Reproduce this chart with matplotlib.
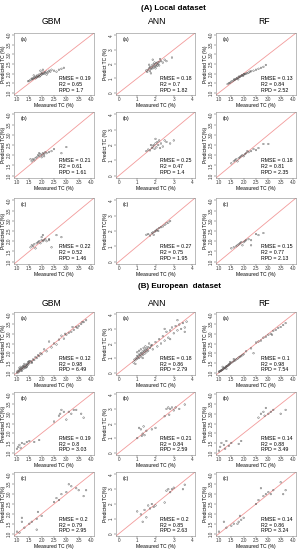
import numpy as np
import matplotlib
matplotlib.use("Agg")
import matplotlib.pyplot as plt

plt.rcParams['font.family'] = ['Liberation Sans', 'DejaVu Sans']

# ---- data: (A) local dataset, measured (x) vs predicted (y) TC %
gbm_loc_a_x = [1.45,1.5,1.55,1.6,1.62,1.65,1.7,1.72,1.75,1.78,1.8,1.82,1.85,1.88,1.9,1.92,1.95,1.98,2.0,2.02,2.05,2.1,2.12,2.15,2.2,2.25,2.3,2.35,2.4,2.5,2.6,2.7,2.8,2.9,1.68,1.95,2.05,2.2]
gbm_loc_a_y = [1.6,1.62,1.68,1.7,1.75,1.72,1.78,1.8,1.75,1.85,1.8,1.9,1.83,1.88,1.95,1.85,1.9,2.0,1.95,2.05,1.98,2.0,2.08,2.02,2.1,2.05,2.15,2.1,2.2,2.15,2.1,2.2,2.25,2.3,1.9,2.15,2.2,1.95]
gbm_loc_b_x = [1.55,1.6,1.7,1.75,1.8,1.85,1.9,1.95,2.0,2.0,2.05,2.1,2.15,2.2,2.3,2.4,2.5,2.8,3.0,1.65,1.9,2.1]
gbm_loc_b_y = [1.8,1.7,1.75,1.85,1.9,2.0,1.95,2.05,2.0,1.9,2.1,2.05,2.15,2.1,2.15,2.2,2.3,2.1,2.4,1.8,2.1,1.95]
gbm_loc_c_x = [1.55,1.6,1.65,1.7,1.8,1.85,1.9,1.95,2.0,2.0,2.05,2.1,2.15,2.2,2.3,2.4,2.6,2.8,1.75,2.05,2.3]
gbm_loc_c_y = [1.7,1.8,1.75,1.85,1.9,1.95,2.0,1.9,2.05,2.2,2.0,2.05,2.1,2.0,2.05,1.7,2.3,2.2,1.65,2.3,2.1]

ann_loc_a_x = [1.5,1.55,1.6,1.65,1.7,1.7,1.75,1.8,1.8,1.85,1.9,1.9,1.95,2.0,2.0,2.05,2.1,2.1,2.15,2.2,2.2,2.3,2.4,2.5,2.6,2.9,1.75,1.85,1.95,2.05,2.25,1.65]
ann_loc_a_y = [1.55,1.45,1.6,1.7,1.5,1.8,1.65,1.75,1.9,1.7,1.85,2.0,1.8,1.95,1.7,2.05,1.9,2.1,2.0,2.15,1.9,2.2,2.1,2.3,2.2,2.45,1.35,2.3,2.1,1.85,2.35,1.95]
ann_loc_b_x = [1.5,1.6,1.7,1.8,1.85,1.9,1.95,2.0,2.05,2.1,2.15,2.2,2.3,2.4,2.5,2.6,2.8,3.0,1.75,2.0,2.25]
ann_loc_b_y = [1.6,1.7,1.65,1.8,1.9,2.0,1.75,2.1,1.85,2.2,2.0,2.3,2.1,1.9,2.3,2.2,2.1,2.3,2.0,2.4,1.8]
ann_loc_c_x = [1.5,1.6,1.7,1.8,1.85,1.9,2.0,2.05,2.1,2.2,2.3,2.4,2.5,2.6,2.7,2.8,1.95,2.15]
ann_loc_c_y = [1.75,1.8,1.7,1.85,1.9,1.75,2.0,2.05,2.1,2.2,2.25,2.3,2.4,2.5,2.55,2.65,1.95,2.0]

rf_loc_a_x = [1.35,1.4,1.45,1.5,1.55,1.6,1.62,1.65,1.7,1.72,1.75,1.8,1.82,1.85,1.9,1.92,1.95,2.0,2.02,2.05,2.1,2.15,2.2,2.25,2.3,2.4,2.5,2.6,2.7,2.8,2.9,1.78,1.98]
rf_loc_a_y = [1.45,1.5,1.52,1.58,1.6,1.65,1.7,1.68,1.72,1.75,1.78,1.8,1.85,1.82,1.88,1.9,1.92,1.95,1.98,1.97,2.0,2.02,2.05,2.1,2.12,2.15,2.2,2.25,2.3,2.35,2.45,1.7,1.88]
rf_loc_b_x = [1.5,1.6,1.65,1.7,1.8,1.85,1.9,1.95,2.0,2.05,2.1,2.2,2.3,2.4,2.5,2.6,2.8,3.0,1.75,2.15]
rf_loc_b_y = [1.6,1.7,1.75,1.8,1.85,1.9,1.95,2.0,1.95,2.05,2.1,2.15,2.2,2.3,2.25,2.35,2.55,2.55,1.7,2.2]
rf_loc_c_x = [1.5,1.6,1.7,1.75,1.8,1.85,1.9,2.0,2.05,2.1,2.2,2.3,2.5,2.6,2.8,1.95,2.3]
rf_loc_c_y = [1.65,1.7,1.75,1.8,1.85,1.9,1.95,1.95,2.0,2.05,2.1,2.05,2.35,2.3,2.4,1.8,1.8]

# ---- data: (B) European dataset
gbm_eu_a_x = [1.0,1.02,1.05,1.08,1.1,1.12,1.15,1.18,1.2,1.22,1.25,1.28,1.3,1.32,1.35,1.38,1.4,1.42,1.45,1.48,1.5,1.55,1.6,1.65,1.7,1.75,1.8,1.85,1.9,1.95,2.0,1.1,1.2,1.3,1.4,1.5,1.6,1.15,1.25,1.35,1.45,2.1,2.2,2.4,2.5,2.6,2.7,2.8,2.9,3.0,3.1,3.2,3.3,3.4,3.5,3.6,3.7,3.8,2.3,2.95,3.25,3.45,3.65]
gbm_eu_a_y = [1.05,0.98,1.1,1.05,1.12,1.18,1.1,1.2,1.25,1.18,1.3,1.22,1.35,1.28,1.38,1.32,1.45,1.38,1.42,1.52,1.48,1.6,1.55,1.68,1.65,1.8,1.75,1.9,1.85,2.0,1.95,1.25,1.1,1.45,1.3,1.6,1.5,1.3,1.35,1.25,1.55,2.2,2.1,2.3,2.5,2.45,2.7,2.9,2.75,2.95,3.05,3.1,3.2,3.35,3.4,3.5,3.6,3.7,2.6,3.0,3.35,3.3,3.6]
gbm_eu_b_x = [1.0,1.05,1.1,1.15,1.2,1.3,1.4,1.5,1.7,1.9,2.5,2.7,2.8,2.9,3.0,3.1,3.2,3.4,3.6,3.7,2.75,3.3]
gbm_eu_b_y = [1.2,1.3,1.4,1.25,1.5,1.45,1.55,1.6,1.55,1.65,2.6,2.9,3.2,3.1,2.7,3.1,3.0,3.2,3.0,2.8,3.0,3.2]
gbm_eu_c_x = [1.0,1.1,1.2,1.3,1.5,1.6,1.8,1.8,1.85,2.0,2.5,2.6,2.7,2.8,3.0,3.1,3.2,3.4,3.5,3.7,3.8,1.2]
gbm_eu_c_y = [1.1,1.05,1.6,1.3,1.5,1.6,1.75,1.2,2.1,1.9,2.6,2.8,2.7,3.0,3.1,3.5,3.4,3.3,3.2,2.9,3.2,1.8]

ann_eu_a_x = [0.8,0.85,0.9,0.95,1.0,1.0,1.05,1.1,1.1,1.15,1.2,1.2,1.25,1.3,1.3,1.35,1.4,1.4,1.45,1.5,1.5,1.55,1.6,1.6,1.7,1.75,1.8,0.9,1.0,1.2,1.3,1.45,1.65,1.85,2.0,2.1,2.2,2.3,2.4,2.5,2.6,2.7,2.8,2.9,3.0,3.1,3.2,3.3,3.4,3.5,3.6,3.7,2.5,2.8,3.2,3.6,1.1,1.35]
ann_eu_a_y = [0.7,0.9,0.85,1.0,0.95,1.15,1.1,1.0,1.25,1.2,1.1,1.35,1.3,1.2,1.45,1.4,1.3,1.55,1.5,1.4,1.65,1.6,1.5,1.75,1.7,1.85,1.9,0.6,1.4,1.6,1.0,1.8,2.0,1.6,2.1,1.8,2.3,2.0,2.5,2.2,2.8,2.4,2.9,3.1,2.7,3.2,2.9,3.3,3.0,3.4,3.1,3.5,3.0,2.3,3.6,2.8,1.5,1.7]
ann_eu_b_x = [1.0,1.1,1.2,1.3,1.35,1.4,1.5,1.8,2.0,2.5,2.6,2.7,2.8,2.9,3.0,3.1,3.3,3.6,1.25,2.75]
ann_eu_b_y = [1.0,1.7,1.6,1.3,1.8,1.2,1.5,1.6,1.7,2.5,3.0,3.1,3.0,3.1,2.9,3.1,3.0,3.3,1.15,2.6]
ann_eu_c_x = [1.0,1.2,1.3,1.4,1.6,1.7,1.8,1.9,2.0,2.5,2.6,2.7,2.8,2.9,3.0,3.5,3.6,1.5]
ann_eu_c_y = [1.5,1.3,0.8,1.6,1.9,1.7,2.0,1.8,1.9,2.1,2.9,3.0,2.8,3.0,3.1,3.0,3.3,1.1]

rf_eu_a_x = [1.0,1.02,1.05,1.08,1.1,1.12,1.15,1.18,1.2,1.22,1.25,1.28,1.3,1.32,1.35,1.38,1.4,1.42,1.45,1.5,1.55,1.6,1.65,1.7,1.75,1.8,1.85,1.9,1.95,2.0,1.15,1.3,1.45,1.6,2.1,2.3,2.5,2.6,2.7,2.8,2.9,3.0,3.1,3.2,3.3,3.4,3.5,3.6,3.7,2.4,3.15]
rf_eu_a_y = [1.05,1.06,1.08,1.1,1.12,1.14,1.16,1.2,1.22,1.24,1.26,1.3,1.32,1.33,1.36,1.38,1.42,1.43,1.46,1.5,1.55,1.6,1.63,1.68,1.72,1.78,1.82,1.85,1.9,1.95,1.3,1.2,1.55,1.7,2.1,2.25,2.55,2.6,2.65,2.8,2.85,2.95,3.0,3.15,3.2,3.3,3.35,3.45,3.55,2.0,2.95]
rf_eu_b_x = [1.0,1.05,1.1,1.2,1.25,1.3,1.4,1.5,1.8,1.9,2.6,2.7,2.8,2.9,3.0,3.1,3.2,3.5,3.7,2.85]
rf_eu_b_y = [1.1,1.3,1.5,1.4,1.2,1.6,1.35,1.5,1.45,1.6,2.8,3.0,3.1,3.3,3.0,3.1,3.2,3.0,3.2,2.9]
rf_eu_c_x = [1.0,1.2,1.3,1.5,1.6,1.8,1.85,1.9,2.0,2.5,2.6,2.7,2.8,2.9,3.0,3.1,3.2,3.5,3.6,3.7,1.75]
rf_eu_c_y = [1.1,1.6,1.3,1.4,1.5,1.6,1.9,1.7,1.8,2.5,2.7,3.3,2.9,3.0,3.1,3.0,3.2,3.6,3.0,3.2,1.5]

# stats per model, rows a, b, c
models = ['GBM', 'ANN', 'RF']
rmse_loc = {'GBM': ['0.19', '0.21', '0.22'], 'ANN': ['0.18', '0.25', '0.27'], 'RF': ['0.13', '0.18', '0.15']}
r2_loc = {'GBM': ['0.65', '0.61', '0.52'], 'ANN': ['0.7', '0.47', '0.75'], 'RF': ['0.84', '0.81', '0.77']}
rpd_loc = {'GBM': ['1.7', '1.61', '1.46'], 'ANN': ['1.82', '1.4', '1.95'], 'RF': ['2.52', '2.35', '2.13']}
rmse_eu = {'GBM': ['0.12', '0.19', '0.2'], 'ANN': ['0.18', '0.21', '0.2'], 'RF': ['0.1', '0.14', '0.14']}
r2_eu = {'GBM': ['0.98', '0.8', '0.79'], 'ANN': ['0.86', '0.84', '0.85'], 'RF': ['0.98', '0.88', '0.86']}
rpd_eu = {'GBM': ['6.49', '3.03', '2.95'], 'ANN': ['2.79', '2.59', '2.63'], 'RF': ['7.54', '3.49', '3.24']}

ylab_loc = {'GBM': ['Predicted TC (%)', 'Predicted TC(%)', 'Predicted TC(%)'],
            'ANN': ['Predict TC (%)', 'Predict TC (%)', 'Predicted TC(%)'],
            'RF': ['Predicted TC (%)', 'Predicted TC(%)', 'Predicted TC(%)']}
ylab_eu = {'GBM': ['Predicted TC (%)', 'Predicted TC(%)', 'Predicted TC(%)'],
           'ANN': ['Predict TC (%)', 'Predict TC (%)', 'Predicted TC(%)'],
           'RF': ['Predicted TC (%)', 'Predicted TC(%)', 'Predicted TC(%)']}

loc_pts = {'GBM': [(gbm_loc_a_x, gbm_loc_a_y), (gbm_loc_b_x, gbm_loc_b_y), (gbm_loc_c_x, gbm_loc_c_y)],
           'ANN': [(ann_loc_a_x, ann_loc_a_y), (ann_loc_b_x, ann_loc_b_y), (ann_loc_c_x, ann_loc_c_y)],
           'RF': [(rf_loc_a_x, rf_loc_a_y), (rf_loc_b_x, rf_loc_b_y), (rf_loc_c_x, rf_loc_c_y)]}
eu_pts = {'GBM': [(gbm_eu_a_x, gbm_eu_a_y), (gbm_eu_b_x, gbm_eu_b_y), (gbm_eu_c_x, gbm_eu_c_y)],
          'ANN': [(ann_eu_a_x, ann_eu_a_y), (ann_eu_b_x, ann_eu_b_y), (ann_eu_c_x, ann_eu_c_y)],
          'RF': [(rf_eu_a_x, rf_eu_a_y), (rf_eu_b_x, rf_eu_b_y), (rf_eu_c_x, rf_eu_c_y)]}

W, H = 304, 550
fig = plt.figure(figsize=(W / 100, H / 100), dpi=100)

# pixel boxes (left, right) and (top, bottom)
col_px = {'GBM': (14, 94), 'ANN': (116, 195), 'RF': (216, 296)}
rows_loc_px = [(33, 95), (112, 178), (198, 264)]
rows_eu_px = [(312, 375), (392, 455), (472, 536)]


def panel(model, k, top_bot, pts, rmse, r2, rpd, ylab):
    l, r = col_px[model]
    t, b = top_bot
    ax = fig.add_axes([l / W, 1 - b / H, (r - l) / W, (b - t) / H])
    if model == 'ANN':
        ticks = [0, 1, 2, 3, 4]
        labels = ['0', '1', '2', '3', '4']
        lo, hi = 0.0, 4.0
    else:
        ticks = list(np.arange(1.0, 4.01, 0.5))
        labels = ['%.1f' % v for v in ticks]
        lo, hi = 1.0, 4.0
    m = 0.04 * (hi - lo)
    ax.set_xlim(lo - m, hi + m)
    ax.set_ylim(lo - m, hi + m)
    ax.plot([lo - m, hi + m], [lo - m, hi + m], color='#f29a9a', lw=0.6, zorder=1)
    x, y = pts
    ax.scatter(x, y, s=1.3, facecolors='none', edgecolors='#4a4a4a', linewidths=0.3, zorder=2)
    ax.set_xticks(ticks)
    ax.set_xticklabels(labels)
    ax.set_yticks(ticks)
    ax.set_yticklabels(labels, rotation=90, va='center')
    ax.tick_params(length=1.2, width=0.3, pad=0.5, labelsize=3.3, colors='#333333')
    for s in ax.spines.values():
        s.set_linewidth(0.4)
        s.set_color('#888888')
    ax.set_xlabel('Measured TC (%)', fontsize=3.6, labelpad=0.2)
    ax.set_ylabel(ylab, fontsize=3.5, labelpad=0.2)
    ax.text(0.08, 0.9, '(%s)' % 'abc'[k], transform=ax.transAxes, fontsize=3.8, va='center')
    for j, s in enumerate(['RMSE = ' + rmse, 'R2 = ' + r2, 'RPD = ' + rpd]):
        ax.text(0.56, 0.26 - j * 0.09, s, transform=ax.transAxes, fontsize=3.8, va='center')
    return ax


for model in models:
    for k in range(3):
        panel(model, k, rows_loc_px[k], loc_pts[model][k],
              rmse_loc[model][k], r2_loc[model][k], rpd_loc[model][k], ylab_loc[model][k])
        panel(model, k, rows_eu_px[k], eu_pts[model][k],
              rmse_eu[model][k], r2_eu[model][k], rpd_eu[model][k], ylab_eu[model][k])

title_x = {'GBM': 52, 'ANN': 157, 'RF': 264}
for model in models:
    fig.text(title_x[model] / W, 1 - 22 / H, model, fontsize=6.2, ha='center', va='center')
    fig.text(title_x[model] / W, 1 - 303 / H, model, fontsize=6.2, ha='center', va='center')
fig.text(173 / W, 1 - 9 / H, '(A) Local dataset', fontsize=5.8, fontweight='bold', ha='center', va='center')
fig.text(180 / W, 1 - 287 / H, '(B) European  dataset', fontsize=5.8, fontweight='bold', ha='center', va='center')

fig.savefig('out.png', dpi=100)
